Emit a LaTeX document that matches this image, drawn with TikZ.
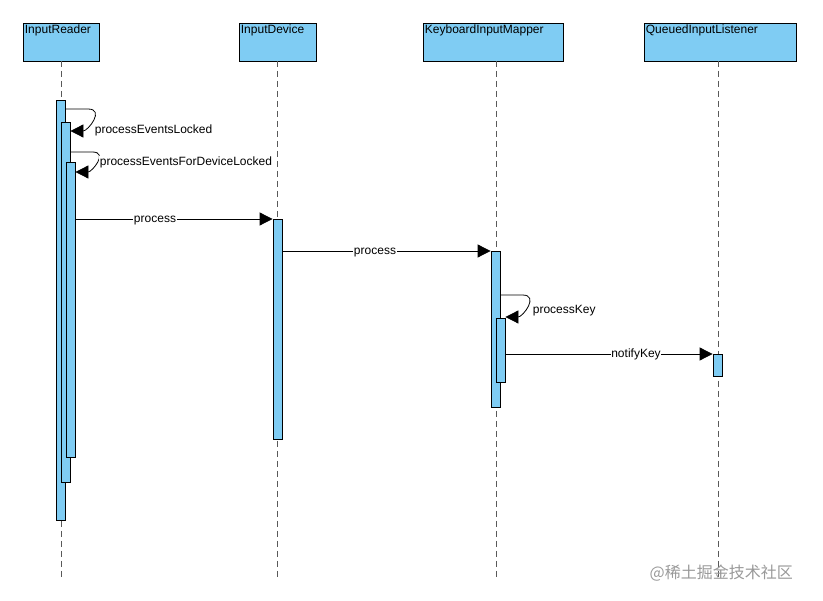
\documentclass[tikz,border=0pt]{standalone}
\usepackage{fontspec}
\setmainfont{Liberation Sans}
\newfontfamily\cjk{Noto Sans CJK SC}
\usetikzlibrary{arrows.meta}
\usetikzlibrary{calc}
\definecolor{actblue}{HTML}{7FCCF3}
\tikzset{
	head/.style={draw=black, fill=actblue, anchor=north west, minimum height=38pt, inner sep=0pt},
	headtxt/.style={anchor=north west, inner sep=1.5pt, font=\fontsize{12}{14}\selectfont},
	act/.style={draw=black, fill=actblue, minimum width=9pt, inner sep=0pt, anchor=north},
	life/.style={dashed, dash pattern=on 6pt off 4pt, gray!70!black, line width=0.8pt},
	msg/.style={font=\fontsize{12}{14}\selectfont, fill=white, inner sep=0.5pt}
}
\begin{document}
\begin{tikzpicture}[x=1pt, y=-1pt, line width=0.8pt, >={Triangle[length=13pt,width=13pt]}]
		\useasboundingbox (0,0) rectangle (823,601);
		% Participants
		\foreach \n/\l/\x/\w in {ir/InputReader/23/76, id/InputDevice/239/77, kim/KeyboardInputMapper/423/140, qil/QueuedInputListener/644/152}{
			\node [head, minimum width=\w pt] at (\x,23) (\n) {};
			\node [headtxt] at (\n.north west) (\n t) {\l};
		}
		% Lifelines
		\draw [life] (61,61) -- (61,578);
		\draw [life] (277,61) -- (277,578);
		\draw [life] (496,61) -- (496,578);
		\draw [life] (718,61) -- (718,578);

		% Activations
		\node [act, minimum height=420pt] at (61,100) (ir1) {};
		\node [act, minimum height=360pt] at (65.5,122) (ir2) {};
		\node [act, minimum height=295pt] at (70.5,162) (ir3) {};
		\node [act, minimum height=220pt] at (277.5,219) (id1) {};
		\node [act, minimum height=156pt] at (495.5,251) (kim1) {};
		\node [act, minimum height=64pt] at (500.5,318) (kim2) {};
		\node [act, minimum height=22pt] at (717.5,354) (qil1) {};

		% Messages
		\coordinate (s1) at (ir1.east |- 0,109);
		\coordinate (e1) at (ir2.east |- 0,131);
		\draw [->] (s1) -- ++(22,0) to[out=0,in=0,looseness=1.6] (e1);
		\node [msg, right] at (94,130) (m1) {processEventsLocked};

		\coordinate (s2) at (ir2.east |- 0,152);
		\coordinate (e2) at (ir3.east |- 0,172);
		\draw [->] (s2) -- ++(22,0) to[out=0,in=0,looseness=1.6] (e2);
		\node [msg, right] at (99,162) (m2) {processEventsForDeviceLocked};

		\draw [->] (ir3.east |- id1.north) -- (id1.north west);
		\node [msg] at (155,221) (m3) {process};

		\draw [->] (id1.east |- kim1.north) -- (kim1.north west);
		\node [msg] at (375,253) (m4) {process};

		\coordinate (s5) at (kim1.east |- 0,295);
		\coordinate (e5) at (kim2.east |- 0,317);
		\draw [->] (s5) -- ++(22,0) to[out=0,in=0,looseness=1.6] (e5);
		\node [msg, right] at (532,311) (m5) {processKey};

		\draw [->] (kim2.east |- qil1.north) -- (qil1.north west);
		\node [msg] at (636,354) (m6) {notifyKey};

		% Watermark
		\node [right, text=gray!80, font=\cjk\fontsize{16}{18}\selectfont] at (646,573) (wm) {@稀土掘金技术社区};
	\end{tikzpicture}
\end{document}
